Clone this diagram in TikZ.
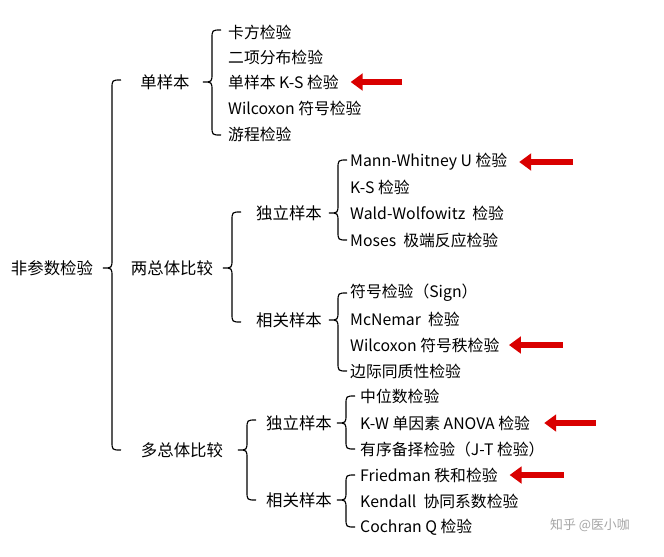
\documentclass[tikz,border=0pt]{standalone}
\usepackage{fontspec}
\setmainfont{Noto Sans CJK SC}
\usetikzlibrary{arrows.meta}

% curly brace: spine x, top y, tip y, bottom y
\newcommand\cbr[4]{%
  \draw[bracel] (#1+9,#2) .. controls (#1,#2) .. (#1,#2+9) -- (#1,#3-9)
    .. controls (#1,#3) .. (#1-9,#3) .. controls (#1,#3) .. (#1,#3+9)
    -- (#1,#4-9) .. controls (#1,#4) .. (#1+9,#4);}

\tikzset{
  item/.style={anchor=west,inner sep=0pt,font=\fontsize{13.5}{15}\selectfont},
  group/.style={inner sep=0pt,font=\fontsize{14}{16}\selectfont},
  bracel/.style={line width=0.35mm},
  redarrow/.style={line width=1.7mm,draw=red!85!black,-{Triangle[length=3.6mm,width=5mm]}}
}

\begin{document}
\begin{tikzpicture}[x=0.3mm,y=-0.3mm]
\useasboundingbox[fill=white] (0,0) rectangle (664,556);

% root
\node[group] (root) at (52,268) {非参数检验};
\cbr{112}{80}{268}{450}

% one sample
\node[group] (one) at (165,82) {单样本};
\cbr{212}{30}{82}{135}
\node[item] (chi) at (228,32) {卡方检验};
\node[item] (binom) at (228,57) {二项分布检验};
\node[item] (ks1) at (228,82) {单样本 K-S 检验};
\node[item] (wsign) at (228,108) {Wilcoxon 符号检验};
\node[item] (runs) at (228,134) {游程检验};

% two samples
\node[group] (two) at (172,268) {两总体比较};
\cbr{232}{212}{268}{322}
\node[group] (twoind) at (289,213) {独立样本};
\cbr{338}{160}{213}{240}
\node[item] (mwu) at (350,162) {Mann-Whitney U 检验};
\node[item] (ks2) at (350,187) {K-S 检验};
\node[item] (ww) at (350,213) {Wald-Wolfowitz\ \ 检验};
\node[item] (moses) at (350,240) {Moses\ \ 极端反应检验};
\node[group] (tworel) at (289,320) {相关样本};
\cbr{338}{293}{320}{371}
\node[item] (sign) at (350,293) {符号检验（Sign）};
\node[item] (mcn) at (350,319) {McNemar\ \ 检验};
\node[item] (wrank) at (350,345) {Wilcoxon 符号秩检验};
\node[item] (marg) at (350,371) {边际同质性检验};

% k samples
\node[group] (multi) at (182,450) {多总体比较};
\cbr{247}{420}{450}{500}
\node[group] (mind) at (299,423) {独立样本};
\cbr{346}{396}{423}{449}
\node[item] (med) at (360,396) {中位数检验};
\node[item] (kw) at (360,423) {K-W 单因素 ANOVA 检验};
\node[item] (jt) at (360,449) {有序备择检验（J-T 检验）};
\node[group] (mrel) at (299,500) {相关样本};
\cbr{346}{475}{500}{527}
\node[item] (fried) at (360,475) {Friedman 秩和检验};
\node[item] (kend) at (360,501) {Kendall\ \ 协同系数检验};
\node[item] (coch) at (360,527) {Cochran Q 检验};

% markers
\draw[redarrow] ([xshift=54]ks1.east) -- ([xshift=10]ks1.east);
\draw[redarrow] ([xshift=56]mwu.east) -- ([xshift=10]mwu.east);
\draw[redarrow] ([xshift=54]wrank.east) -- ([xshift=8]wrank.east);
\draw[redarrow] ([xshift=56]kw.east) -- ([xshift=12]kw.east);
\draw[redarrow] ([xshift=56]fried.east) -- ([xshift=10]fried.east);

\node[inner sep=0pt,text=black!35,font=\fontsize{11}{13}\selectfont] (mark) at (590,525) {知乎 @医小咖};
\end{tikzpicture}
\end{document}
